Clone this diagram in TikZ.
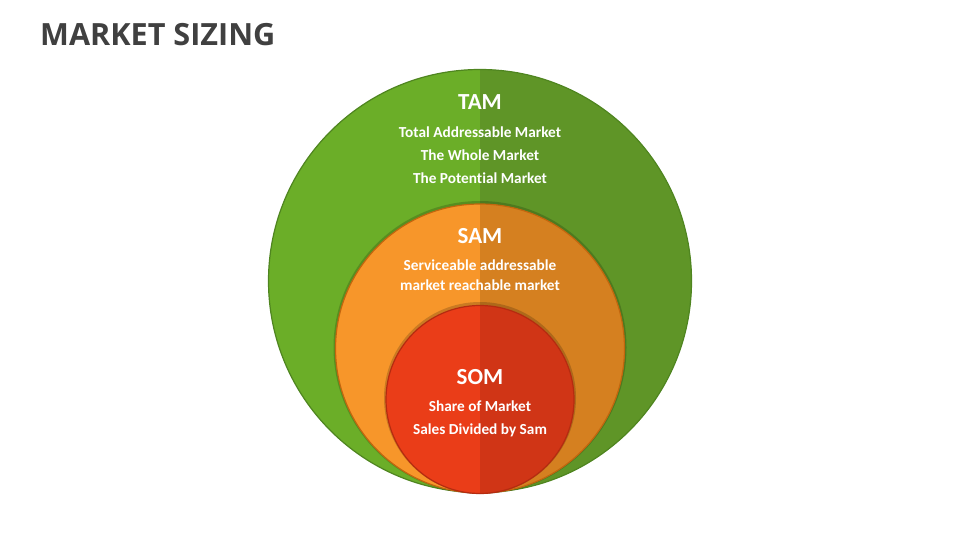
\documentclass[tikz,border=0pt]{standalone}
\usepackage{fontspec}
\setmainfont{Carlito}[Ligatures=NoCommon]
\newfontfamily\titlefont{Open Sans}
\definecolor{tamL}{HTML}{6BAE28}
\definecolor{tamR}{HTML}{5F9527}
\definecolor{tamB}{HTML}{4F8520}
\definecolor{samL}{HTML}{F7962A}
\definecolor{samR}{HTML}{D58020}
\definecolor{samB}{HTML}{C2660E}
\definecolor{somL}{HTML}{EA3D18}
\definecolor{somR}{HTML}{D03516}
\definecolor{somB}{HTML}{B52B10}
\definecolor{titlegray}{HTML}{404040}
\begin{document}
\begin{tikzpicture}[x=1pt,y=-1pt]
\useasboundingbox (0,0) rectangle (960,540);
\tikzset{
  halves/.style n args={3}{circle, inner sep=0pt, draw=#3, line width=1.2pt, fill=#1,
    path picture={\fill[#2] (path picture bounding box.north) rectangle (path picture bounding box.south east);}},
  halo/.style={circle, inner sep=0pt, fill=black, opacity=0.18},
  head/.style={text=white, font=\fontsize{23}{28}\selectfont\bfseries, inner sep=0pt},
  body/.style={text=white, align=center, inner sep=0pt},
}
\node[anchor=base west, inner sep=0pt, text=titlegray, font=\titlefont\bfseries\fontsize{30.6}{38}\selectfont] (title) at (40,46) {MARKET SIZING};

\node[halves={tamL}{tamR}{tamB}, minimum size=423pt] (tam) at (480,281) {};
\node[halo, minimum size=293pt] (samhalo) at (480,347.5) {};
\node[halves={samL}{samR}{samB}, minimum size=289pt] (sam) at (480,348.5) {};
\node[halo, minimum size=192pt] (somhalo) at (480,398) {};
\node[halves={somL}{somR}{somB}, minimum size=188pt] (som) at (480,399.5) {};

\node[head] (tamh) at (480,102) {TAM};
\node[body, font=\fontsize{15.3}{23}\selectfont\bfseries] (tamb) at (480,155) {Total Addressable Market\\The Whole Market\\The Potential Market};
\node[head] (samh) at (480,236) {SAM};
\node[body, font=\fontsize{15.3}{20}\selectfont\bfseries] (samb) at (480,275.5) {Serviceable addressable\\market reachable market};
\node[head] (somh) at (480,377) {SOM};
\node[body, font=\fontsize{15.3}{23}\selectfont\bfseries] (somb) at (480,418.5) {Share of Market\\Sales Divided by Sam};
\end{tikzpicture}
\end{document}
